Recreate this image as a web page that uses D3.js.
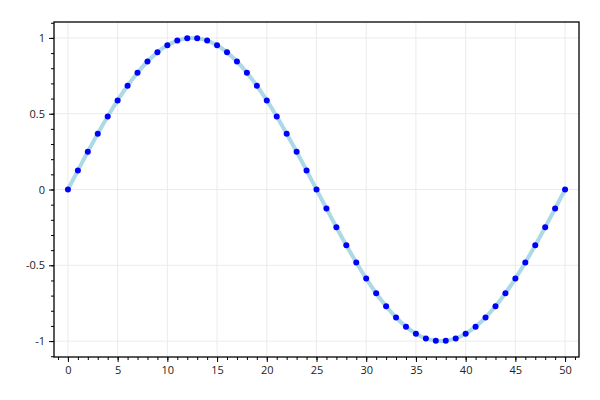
<!DOCTYPE html>
<html><head><meta charset="utf-8">
<script src="https://cdn.jsdelivr.net/npm/d3@7"></script>
<style>body{margin:0;background:#fff}svg{display:block}</style>
</head><body>
<svg id="c" width="600" height="400"></svg>
<script>
const xValues = [0,1,2,3,4,5,6,7,8,9,10,11,12,13,14,15,16,17,18,19,20,21,22,23,24,25,26,27,28,29,30,31,32,33,34,35,36,37,38,39,40,41,42,43,44,45,46,47,48,49,50];
const yValues = [0,0.1253,0.2487,0.3681,0.4818,0.5878,0.6845,0.7705,0.8443,0.9048,0.9511,0.9823,0.998,0.998,0.9823,0.9511,0.9048,0.8443,0.7705,0.6845,0.5878,0.4818,0.3681,0.2487,0.1253,0,-0.1253,-0.2487,-0.3681,-0.4818,-0.5878,-0.6845,-0.7705,-0.8443,-0.9048,-0.9511,-0.9823,-0.998,-0.998,-0.9823,-0.9511,-0.9048,-0.8443,-0.7705,-0.6845,-0.5878,-0.4818,-0.3681,-0.2487,-0.1253,0];
const xTicks = [0,5,10,15,20,25,30,35,40,45,50];
const yTicks = [-1,-0.5,0,0.5,1];

const svg = d3.select("#c");
const L=54, T=22, R=579, B=357;
const x = d3.scaleLinear().domain([-1.4,51.4]).range([L,R]);
const y = d3.scaleLinear().domain([-1.105,1.105]).range([B,T]);
const data = xValues.map((v,i)=>({x:v,y:yValues[i]}));

// grid
const g = svg.append("g");
g.selectAll(".vg").data(xTicks).enter().append("line")
  .attr("x1",d=>x(d)).attr("x2",d=>x(d)).attr("y1",T).attr("y2",B)
  .attr("stroke","#ebebeb").attr("stroke-width",1);
g.selectAll(".hg").data(yTicks).enter().append("line")
  .attr("y1",d=>y(d)).attr("y2",d=>y(d)).attr("x1",L).attr("x2",R)
  .attr("stroke","#ebebeb").attr("stroke-width",1);

// line
svg.append("path").datum(data)
  .attr("d", d3.line().x(d=>x(d.x)).y(d=>y(d.y)).curve(d3.curveCatmullRom))
  .attr("fill","none").attr("stroke","#add8e6").attr("stroke-width",4);

svg.selectAll(".pt").data(data).enter().append("circle")
  .attr("cx",d=>x(d.x)).attr("cy",d=>y(d.y)).attr("r",3).attr("fill","#0000ff");

// frame
svg.append("rect").attr("x",L).attr("y",T).attr("width",R-L).attr("height",B-T)
  .attr("fill","none").attr("stroke","#000").attr("stroke-width",1.3);

const font = "'Open Sans', 'Noto Sans', sans-serif";
// x axis
const xMinor = d3.range(-1,52,1);
const xa = svg.append("g").attr("transform",`translate(0,${B})`);
xa.call(d3.axisBottom(x).tickValues(xMinor).tickSize(3).tickFormat(""));
xa.append("g").call(d3.axisBottom(x).tickValues(xTicks).tickSize(5).tickPadding(4).tickFormat(d3.format("d")));
xa.selectAll(".domain").remove();
xa.selectAll("line").attr("stroke","#000");
xa.selectAll("text").attr("fill","#222").style("font-family",font).style("font-size","11px");

const ya = svg.append("g").attr("transform",`translate(${L},0)`);
const yMinor = d3.range(-11,12).map(d=>d/10);
ya.call(d3.axisLeft(y).tickValues(yMinor).tickSize(3).tickFormat(""));
ya.append("g").call(d3.axisLeft(y).tickValues(yTicks).tickSize(5).tickPadding(4).tickFormat(d=>String(d)));
ya.selectAll(".domain").remove();
ya.selectAll("line").attr("stroke","#000");
ya.selectAll("text").attr("fill","#222").style("font-family",font).style("font-size","11px");
</script>
</body></html>
